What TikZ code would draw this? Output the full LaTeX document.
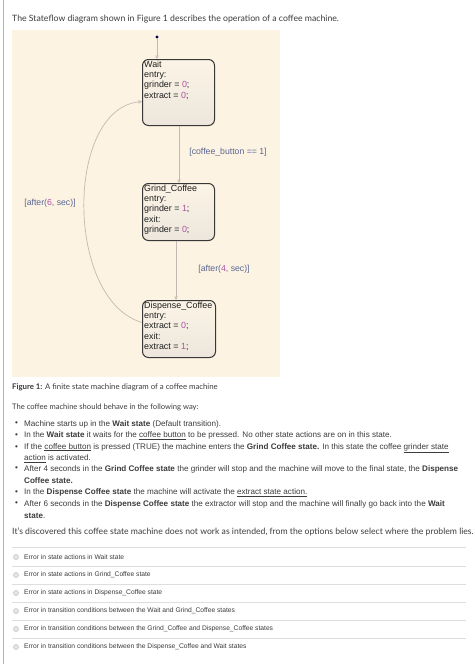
\documentclass[tikz,border=0pt]{standalone}
\usepackage{fontspec}
\setmainfont{Lato}
\newfontfamily\arialf{Liberation Sans}
\usetikzlibrary{arrows.meta}
\definecolor{panel}{RGB}{253,243,227}
\definecolor{boxtop}{RGB}{252,244,230}
\definecolor{boxbot}{RGB}{236,230,220}
\definecolor{num}{RGB}{172,82,165}
\definecolor{lbl}{RGB}{88,102,145}
\definecolor{txt}{RGB}{60,60,60}
\definecolor{edge}{RGB}{192,186,178}
\definecolor{sep}{RGB}{222,222,222}
\begin{document}
\begin{tikzpicture}[x=1pt,y=-1pt,
 statebox/.style={draw=black!78, line width=1pt, rounded corners=6pt, top color=boxtop, bottom color=boxbot, minimum width=72pt, anchor=north west, inner sep=0pt},
 statetext/.style={anchor=north west, align=left, inner sep=0pt, font=\arialf\fontsize{8.9}{10.3}\selectfont, text=black!88},
 trans/.style={draw=edge, line width=0.7pt, -{Triangle[open,length=3.5pt,width=3.5pt]}},
 tlabel/.style={font=\arialf\fontsize{8.7}{10}\selectfont, text=lbl, inner sep=0pt},
 body/.style={font=\fontsize{7.8}{9}\selectfont, text=txt, anchor=west, inner sep=0pt},
 bul/.style={font=\arialf\fontsize{8.1}{9.5}\selectfont, text=txt, anchor=west, inner sep=0pt},
 opt/.style={font=\arialf\fontsize{6.7}{8}\selectfont, text=txt, anchor=west, inner sep=0pt},
 radio/.style={circle, draw=black!25, fill=black!10, line width=0.5pt, minimum size=5pt, inner sep=0pt},
]
\useasboundingbox[fill=white] (0,0) rectangle (474,664);
\draw[black!30, line width=1pt] (3,0) -- (3,664);

% title
\node[body, font=\fontsize{8.7}{10}\selectfont] (title) at (12,19) {The Stateflow diagram shown in Figure 1 describes the operation of a coffee machine.};

% panel
\fill[panel] (12,30) rectangle (280,377);

% states
\node[statebox, minimum height=66pt] (wait) at (142,59) {};
\node[statetext] (waittxt) at ([xshift=2pt,yshift=-1.5pt]wait.north west)
 {Wait\\entry:\\grinder = \textcolor{num}{0};\\extract = \textcolor{num}{0};};

\node[statebox, minimum height=57pt] (grind) at (142,183) {};
\node[statetext] (grindtxt) at ([xshift=2pt,yshift=-1.5pt]grind.north west)
 {Grind\_Coffee\\entry:\\grinder = \textcolor{num}{1};\\exit:\\grinder = \textcolor{num}{0};};

\node[statebox, minimum height=57pt, minimum width=73pt] (disp) at (142,300) {};
\node[statetext] (disptxt) at ([xshift=2pt,yshift=-1.5pt]disp.north west)
 {Dispense\_Coffee\\entry:\\extract = \textcolor{num}{0};\\exit:\\extract = \textcolor{num}{1};};

% default transition
\fill[black!70!blue] (157,37) circle (1.7pt);
\coordinate (init) at (157,38);
\draw[trans] (init) -- (init |- wait.north);

% transitions
\coordinate (wg) at (179,0);
\draw[trans] (wait.south -| wg) -- (grind.north -| wg);
\coordinate (gd) at (176,0);
\draw[trans] (grind.south -| gd) -- (disp.north -| gd);
\draw[trans] ([yshift=6.5pt]disp.west) .. controls (65,300) and (65,110) .. ([yshift=-9pt]wait.west);

% transition labels
\node[tlabel] (l1) at (228,152) {[coffee\_button == 1]};
\node[tlabel] (l2) at (224,269) {[after(\textcolor{num}{4}, sec)]};
\node[tlabel] (l3) at (50,203) {[after(\textcolor{num}{6}, sec)]};

% caption and text
\node[body] (cap) at (12,387) {\textbf{Figure 1:} A finite state machine diagram of a coffee machine};
\node[body, font=\fontsize{7.6}{9}\selectfont] (intro) at (12,407) {The coffee machine should behave in the following way:};

\foreach \y in {424,436,448,469,493,504} {\node[bul] at (15,\y) {\textbullet};}
\node[bul] (b1) at (24,424) {Machine starts up in the \textbf{Wait state} (Default transition).};
\node[bul] (b2) at (24,436) {In the \textbf{Wait state} it waits for the \underline{coffee button} to be pressed. No other state actions are on in this state.};
\node[bul] (b3) at (24,448) {If the \underline{coffee button} is pressed (TRUE) the machine enters the \textbf{Grind Coffee state.} In this state the coffee \underline{grinder state}};
\node[bul] (b3b) at (24,459) {\underline{action} is activated.};
\node[bul] (b4) at (24,469) {After 4 seconds in the \textbf{Grind Coffee state} the grinder will stop and the machine will move to the final state, the \textbf{Dispense}};
\node[bul] (b4b) at (24,481) {\textbf{Coffee state.}};
\node[bul] (b5) at (24,493) {In the \textbf{Dispense Coffee state} the machine will activate the \underline{extract state action.}};
\node[bul] (b6) at (24,504) {After 6 seconds in the \textbf{Dispense Coffee state} the extractor will stop and the machine will finally go back into the \textbf{Wait}};
\node[bul] (b6b) at (24,516) {\textbf{state}.};

\node[body, font=\fontsize{8.65}{10}\selectfont] (q) at (12,532) {It's discovered this coffee state machine does not work as intended, from the options below select where the problem lies.};

% options
\foreach \y in {547,566,584,602,620,638} {\draw[sep, line width=0.8pt] (12,\y) -- (466,\y);}
\foreach \y in {557,575,593,611,629,647} {\node[radio] at (16,\y) {};}
\node[opt] (o1) at (24,557) {Error in state actions in Wait state};
\node[opt] (o2) at (24,575) {Error in state actions in Grind\_Coffee state};
\node[opt] (o3) at (24,593) {Error in state actions in Dispense\_Coffee state};
\node[opt] (o4) at (24,611) {Error in transition conditions between the Wait and Grind\_Coffee states};
\node[opt] (o5) at (24,629) {Error in transition conditions between the Grind\_Coffee and Dispense\_Coffee states};
\node[opt] (o6) at (24,647) {Error in transition conditions between the Dispense\_Coffee and Wait states};
\end{tikzpicture}
\end{document}
